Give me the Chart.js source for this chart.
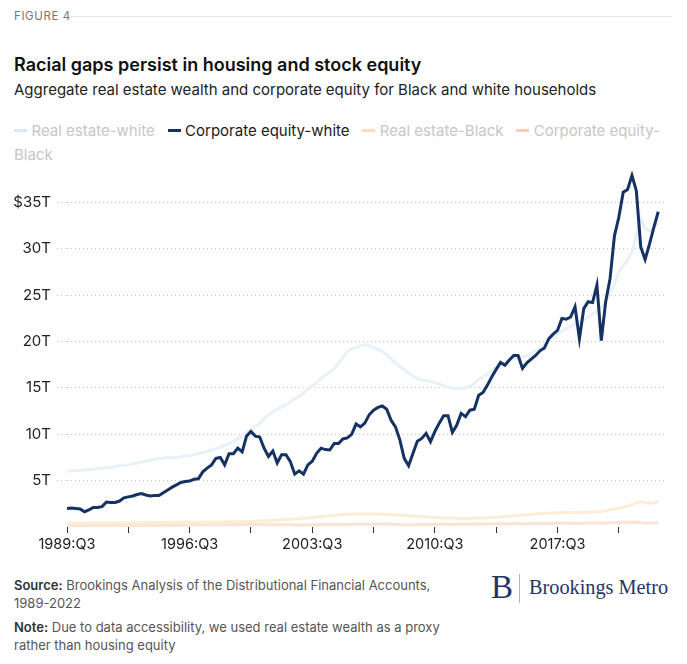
<!DOCTYPE html>
<html>
<head>
<meta charset="utf-8">
<script src="https://cdn.jsdelivr.net/npm/chart.js@4.4.0/dist/chart.umd.min.js"></script>
<style>
  body { margin: 0; background: #fff; font-family: Inter, "Noto Sans", sans-serif; }
  #page { position: relative; width: 687px; height: 664px; overflow: hidden; }
  .abs { position: absolute; }
  #fig { left: 14px; top: 9px; font-size: 11.5px; color: #777; letter-spacing: 0.6px; }
  #figline { left: 71px; top: 16px; width: 601px; height: 1px; background: #e6e6e6; }
  #title { left: 14px; top: 54px; font-size: 18px; font-weight: 600; color: #111; }
  #subtitle { left: 14px; top: 80px; font-size: 15px; color: #222; }
  #legend { left: 14px; top: 119px; width: 662px; font-size: 15px; line-height: 24px; }
  .item { margin-right: 8.5px; }
  .sw { display: inline-block; width: 13px; height: 3px; vertical-align: middle; margin-right: 4.5px; position: relative; top: -1px; }
  .faded { color: #c6c6c6; }
  .on { color: #1a1a1a; }
  #chartbox { left: 0; top: 155px; width: 687px; height: 405px; }
  .foot { left: 14px; font-size: 13px; line-height: 18px; color: #555; }
  .foot b { color: #333; font-weight: 600; }
  #logoB { left: 491px; top: 569px; font-family: "Liberation Serif", "DejaVu Serif", serif; font-size: 33px; color: #1f3766; line-height: 36px; }
  #logoLine { left: 519px; top: 574px; width: 1px; height: 29px; background: #b5b5b5; }
  #logoText { left: 529px; top: 576px; font-family: "Liberation Serif", "DejaVu Serif", serif; font-size: 20.3px; color: #1f3766; line-height: 22px; }
</style>
</head>
<body>
<div id="page">
  <div id="fig" class="abs">FIGURE 4</div>
  <div id="figline" class="abs"></div>
  <div id="title" class="abs">Racial gaps persist in housing and stock equity</div>
  <div id="subtitle" class="abs">Aggregate real estate wealth and corporate equity for Black and white households</div>
  <div id="legend" class="abs"></div>
  <div id="chartbox" class="abs"><canvas id="myChart"></canvas></div>
  <div class="abs foot" style="top:576px;"><b>Source:</b> Brookings Analysis of the Distributional Financial Accounts,<br>1989-2022</div>
  <div class="abs foot" style="top:618px;"><b>Note:</b> Due to data accessibility, we used real estate wealth as a proxy<br>rather than housing equity</div>
  <div id="logoB" class="abs">B</div>
  <div id="logoLine" class="abs"></div>
  <div id="logoText" class="abs">Brookings Metro</div>
</div>
<script>
// quarters from 1989:Q3 to 2023:Q2
var quarters = [];
for (var i = 0; i < 136; i++) {
    quarters.push((1989 + Math.floor((i + 2) / 4)) + ':Q' + ((i + 2) % 4 + 1));
}

// trillions of dollars
var realEstateWhite = [
    6.0, 6.05, 6.1, 6.12, 6.15, 6.2, 6.25, 6.3, 6.35, 6.4,
    6.45, 6.5, 6.6, 6.65, 6.7, 6.8, 6.9, 7.0, 7.1, 7.2,
    7.3, 7.4, 7.45, 7.5, 7.5, 7.45, 7.55, 7.65, 7.7, 7.8,
    7.9, 8.0, 8.15, 8.3, 8.45, 8.6, 8.8, 9.0, 9.25, 9.5,
    9.8, 10.2, 10.5, 10.85, 11.2, 11.7, 12.1, 12.4, 12.7, 12.95,
    13.2, 13.5, 13.8, 14.1, 14.45, 14.9, 15.2, 15.6, 16.0, 16.4,
    16.7, 17.1, 17.7, 18.3, 18.9, 19.25, 19.3, 19.55, 19.7, 19.55,
    19.35, 19.15, 18.95, 18.6, 18.1, 17.7, 17.3, 16.95, 16.6, 16.3,
    16.0, 15.85, 15.8, 15.7, 15.6, 15.4, 15.25, 15.1, 15.0, 14.95,
    14.9, 15.0, 15.2, 15.5, 15.9, 16.2, 16.5, 16.85, 17.2, 17.5,
    17.75, 18.0, 18.1, 18.25, 18.35, 18.5, 18.7, 19.0, 19.25, 19.6,
    20.1, 20.5, 20.8, 21.1, 21.4, 21.65, 21.9, 22.1, 22.35, 22.65,
    23.0, 23.3, 23.7, 24.4, 25.2, 26.2, 27.5, 28.2, 28.8, 29.6,
    31.5, 33.3, 32.2, 31.9, 32.3, 32.8
];
var corpEquityWhite = [
    2.0, 2.05, 2.0, 1.95, 1.65, 1.85, 2.1, 2.1, 2.2, 2.7,
    2.65, 2.65, 2.8, 3.15, 3.25, 3.35, 3.5, 3.6, 3.45, 3.35,
    3.4, 3.4, 3.7, 4.0, 4.3, 4.55, 4.8, 4.9, 4.95, 5.15,
    5.2, 5.95, 6.35, 6.7, 7.4, 7.5, 6.7, 7.9, 7.9, 8.5,
    8.1, 9.8, 10.3, 9.8, 9.7, 8.5, 7.6, 8.2, 6.9, 7.8,
    7.8, 7.05, 5.7, 6.05, 5.7, 6.7, 7.1, 7.95, 8.5, 8.35,
    8.3, 9.0, 9.0, 9.5, 9.6, 10.0, 11.1, 10.8, 11.2, 12.1,
    12.6, 12.9, 13.05, 12.7, 11.5, 10.8, 9.4, 7.4, 6.6, 7.95,
    9.25, 9.55, 10.1, 9.2, 10.3, 11.2, 12.0, 12.0, 10.2, 11.0,
    12.25, 11.9, 12.6, 12.7, 14.2, 14.5, 15.3, 16.2, 17.0, 17.75,
    17.45, 18.0, 18.5, 18.5, 17.1, 17.7, 18.1, 18.5, 19.0, 19.3,
    20.3, 20.8, 21.2, 22.5, 22.4, 22.65, 23.75, 20.3, 23.55, 24.3,
    24.2, 26.1, 20.1, 24.3, 26.8, 31.4, 33.4, 36.1, 36.4, 37.9,
    36.25, 30.2, 28.85, 30.5, 32.3, 34.0
];
var realEstateBlack = [
    0.4, 0.4, 0.41, 0.41, 0.42, 0.42, 0.42, 0.43, 0.43, 0.44,
    0.44, 0.44, 0.45, 0.45, 0.46, 0.46, 0.46, 0.47, 0.47, 0.48,
    0.48, 0.48, 0.49, 0.49, 0.5, 0.5, 0.5, 0.51, 0.51, 0.52,
    0.52, 0.53, 0.53, 0.54, 0.54, 0.55, 0.55, 0.56, 0.56, 0.57,
    0.57, 0.58, 0.6, 0.62, 0.64, 0.66, 0.68, 0.71, 0.74, 0.77,
    0.8, 0.83, 0.86, 0.9, 0.94, 0.98, 1.02, 1.06, 1.1, 1.15,
    1.2, 1.25, 1.3, 1.34, 1.37, 1.39, 1.4, 1.41, 1.41, 1.41,
    1.4, 1.4, 1.38, 1.36, 1.33, 1.3, 1.27, 1.24, 1.21, 1.18,
    1.15, 1.12, 1.09, 1.06, 1.03, 1.0, 0.98, 0.96, 0.95, 0.94,
    0.93, 0.93, 0.93, 0.94, 0.96, 0.98, 1.0, 1.03, 1.06, 1.09,
    1.12, 1.16, 1.2, 1.24, 1.28, 1.32, 1.36, 1.4, 1.44, 1.47,
    1.49, 1.51, 1.53, 1.54, 1.55, 1.56, 1.57, 1.57, 1.58, 1.58,
    1.6, 1.64, 1.68, 1.75, 1.85, 1.95, 2.05, 2.15, 2.25, 2.4,
    2.6, 2.75, 2.62, 2.55, 2.6, 2.8
];
var corpEquityBlack = [
    0.15, 0.15, 0.15, 0.15, 0.14, 0.15, 0.15, 0.15, 0.15, 0.16,
    0.16, 0.16, 0.16, 0.17, 0.17, 0.17, 0.17, 0.18, 0.17, 0.17,
    0.17, 0.17, 0.18, 0.18, 0.19, 0.19, 0.2, 0.2, 0.2, 0.21,
    0.21, 0.22, 0.23, 0.23, 0.24, 0.24, 0.23, 0.25, 0.25, 0.26,
    0.26, 0.28, 0.29, 0.28, 0.28, 0.26, 0.25, 0.26, 0.24, 0.25,
    0.25, 0.24, 0.22, 0.22, 0.22, 0.23, 0.24, 0.25, 0.26, 0.26,
    0.26, 0.27, 0.27, 0.28, 0.28, 0.29, 0.3, 0.3, 0.3, 0.31,
    0.32, 0.32, 0.32, 0.32, 0.3, 0.29, 0.27, 0.24, 0.22, 0.24,
    0.26, 0.27, 0.28, 0.27, 0.28, 0.29, 0.3, 0.3, 0.28, 0.29,
    0.3, 0.3, 0.31, 0.31, 0.32, 0.33, 0.33, 0.34, 0.35, 0.36,
    0.36, 0.36, 0.37, 0.37, 0.36, 0.36, 0.37, 0.37, 0.38, 0.38,
    0.39, 0.39, 0.4, 0.41, 0.41, 0.41, 0.42, 0.38, 0.41, 0.42,
    0.42, 0.44, 0.38, 0.42, 0.45, 0.48, 0.5, 0.52, 0.52, 0.53,
    0.5, 0.45, 0.43, 0.44, 0.45, 0.46
];

var seriesNames = ['Real estate-white', 'Corporate equity-white', 'Real estate-Black', 'Corporate equity-Black'];
var lineColors = ['rgb(232, 240, 250)', 'rgb(21, 50, 98)', 'rgb(253, 236, 214)', 'rgb(251, 228, 214)'];
var swatchColors = ['rgb(216, 230, 247)', 'rgb(21, 50, 98)', 'rgb(253, 222, 180)', 'rgb(248, 206, 182)'];
var yTicks = [5, 10, 15, 20, 25, 30, 35];

function toPoints(arr) {
    return arr.map(function (v, i) { return { x: i, y: v }; });
}

// legend in html so the last label can wrap like the original
var legendHtml = '';
for (var k = 0; k < seriesNames.length; k++) {
    legendHtml += '<span class="item ' + (k === 1 ? 'on' : 'faded') + '"><span class="sw" style="background:' +
        swatchColors[k] + '"></span>' + seriesNames[k] + '</span> ';
}
document.getElementById('legend').innerHTML = legendHtml;

var allSeries = [realEstateWhite, corpEquityWhite, realEstateBlack, corpEquityBlack];
var drawOrder = [1, 0, 2, 3];
var datasets = allSeries.map(function (s, k) {
    return {
        label: seriesNames[k],
        data: toPoints(s),
        borderColor: lineColors[k],
        backgroundColor: lineColors[k],
        borderWidth: 3,
        pointRadius: 0,
        tension: 0,
        order: drawOrder[k]
    };
});

var config = {
    type: 'line',
    data: { datasets: datasets },
    options: {
        responsive: true,
        maintainAspectRatio: false,
        animation: false,
        layout: { padding: { top: 0, right: 20, bottom: 3, left: 0 } },
        plugins: {
            legend: { display: false },
            tooltip: { enabled: false }
        },
        scales: {
            x: {
                type: 'linear',
                min: 0,
                max: 137,
                afterBuildTicks: function (scale) {
                    scale.ticks = scale.ticks.filter(function (t) { return t.value % 14 === 0 && t.value <= 135; });
                },
                afterFit: function (scale) { scale.height = 30; },
                ticks: {
                    stepSize: 14,
                    autoSkip: false,
                    maxRotation: 0,
                    padding: 3,
                    color: '#222',
                    font: { family: 'Inter', size: 14.5 },
                    callback: function (v) { return v % 28 === 0 ? quarters[v] : ''; }
                },
                grid: { drawOnChartArea: false, drawTicks: true, tickLength: 6, color: '#333', lineWidth: 1 },
                border: { display: false }
            },
            y: {
                min: 0,
                max: 38.5,
                afterBuildTicks: function (scale) {
                    scale.ticks = yTicks.map(function (v) { return { value: v }; });
                },
                afterFit: function (scale) { scale.width = 67; },
                ticks: {
                    padding: 6,
                    color: '#222',
                    font: { family: 'Inter', size: 15 },
                    callback: function (v) { return v === 35 ? '$35T' : v + 'T'; }
                },
                grid: { color: '#c4c4c4', lineWidth: 1, tickLength: 10, tickBorderDash: [1, 3] },
                border: { display: false, dash: [1, 3] }
            }
        }
    }
};

var ctx = document.getElementById('myChart').getContext('2d');
var mychart = new Chart(ctx, config);
</script>
</body>
</html>
